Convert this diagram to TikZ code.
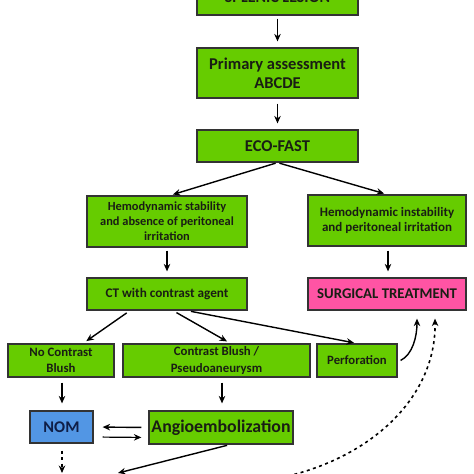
\documentclass[tikz,border=0pt]{standalone}
\usepackage{fontspec}
\setmainfont{Carlito}
\usetikzlibrary{arrows.meta}
\definecolor{boxgreen}{RGB}{102,204,0}
\definecolor{boxpink}{RGB}{255,84,164}
\definecolor{boxblue}{RGB}{82,150,228}
\definecolor{txt}{RGB}{25,30,20}
\tikzset{
  box/.style={draw=black!80, line width=1.2pt, fill=boxgreen, align=center, inner sep=1pt, font=\bfseries, text=txt},
  arr/.style={-{Stealth[length=7.5pt,width=6.5pt]}, line width=1.4pt, black},
  darr/.style={arr, dash pattern=on 3pt off 3.5pt},
}
\begin{document}
\begin{tikzpicture}[x=1pt,y=-1pt]
\useasboundingbox (0,0) rectangle (474,474);
\fill[white] (0,0) rectangle (474,474);
\node[box, minimum width=161, minimum height=36, font=\bfseries\fontsize{16}{18}\selectfont] (spl) at (277.5,-3) {\raisebox{0pt}{SPLENIC LESION}};
\node[box, minimum width=161, minimum height=50, font=\bfseries\fontsize{16.5}{19}\selectfont] (prim) at (277.5,73) {Primary assessment\\ABCDE};
\node[box, minimum width=161, minimum height=32, font=\bfseries\fontsize{16.5}{18}\selectfont] (eco) at (277.5,146) {ECO-FAST};
\node[box, minimum width=160, minimum height=51, font=\bfseries\fontsize{12.4}{15}\selectfont] (lh) at (167,221.5) {Hemodynamic stability\\and absence of peritoneal\\irritation};
\node[box, minimum width=158, minimum height=51, font=\bfseries\fontsize{13}{15.5}\selectfont] (rh) at (387,220.5) {Hemodynamic instability\\and peritoneal irritation};
\node[box, minimum width=160, minimum height=32, font=\bfseries\fontsize{13.2}{15}\selectfont] (ct) at (167,294) {CT with contrast agent};
\node[box, fill=boxpink, minimum width=158, minimum height=32, font=\bfseries\fontsize{14.8}{17}\selectfont] (surg) at (387,294) {SURGICAL TREATMENT};
\node[box, minimum width=106, minimum height=33, font=\bfseries\fontsize{12.8}{16.5}\selectfont] (nc) at (61,360.5) {No Contrast\\Blush};
\node[box, minimum width=187, minimum height=33, font=\bfseries\fontsize{12.8}{16.5}\selectfont] (cb) at (216.5,360.5) {Contrast Blush /\\Pseudoaneurysm};
\node[box, minimum width=80, minimum height=33, font=\bfseries\fontsize{12.7}{14}\selectfont] (perf) at (357,360.5) {Perforation};
\node[box, fill=boxblue, text={rgb,255:red,15;green,30;blue,70}, minimum width=63, minimum height=32, font=\bfseries\fontsize{16.3}{18}\selectfont] (nom) at (61.5,427) {NOM};
\node[box, minimum width=144, minimum height=33, font=\bfseries\fontsize{17.8}{20}\selectfont] (ang) at (221,427.5) {Angioembolization};
\coordinate (nomend) at (62,473);
\coordinate (angend) at (118,473);
\coordinate (dstart) at (288,476);
% connectors
\draw[arr, shorten <=3pt, shorten >=6pt] (spl.south) -- (prim.north);
\draw[arr, shorten <=5pt, shorten >=6pt] (prim.south) -- (eco.north);
\draw[arr, shorten <=2pt, shorten >=3pt] (eco.south) -- ([xshift=3]lh.north);
\draw[arr, shorten <=2pt, shorten >=3pt] (eco.south) -- (rh.north);
\draw[arr, shorten <=3pt, shorten >=6pt] (lh.south) -- (ct.north);
\draw[arr, shorten <=4pt, shorten >=6pt] ([xshift=1]rh.south) -- ([xshift=1]surg.north);
\draw[arr, shorten <=4pt, shorten >=4pt] ([xshift=-37]ct.south) -- ([xshift=22]nc.north);
\draw[arr, shorten <=4pt, shorten >=4pt] ([xshift=6]ct.south) -- ([xshift=14]cb.north);
\draw[arr, shorten <=4pt, shorten >=3pt] ([xshift=20]ct.south) -- (perf.north);
\draw[arr] ([xshift=3]perf.east) .. controls +(12,-6) and +(0,18) .. ([xshift=30,yshift=-8]surg.south);
\draw[darr, line width=1.6pt] (dstart) .. controls (375,455) and (436,395) .. ([xshift=48,yshift=-8]surg.south);
\draw[arr, shorten <=5pt, shorten >=7pt] ([xshift=1]nc.south) -- ([xshift=0.5]nom.north);
\draw[arr, shorten <=5pt, shorten >=7pt] ([xshift=5.5]cb.south) -- ([xshift=1]ang.north);
\draw[arr, shorten <=7pt, shorten >=9pt] (ang.west) -- (nom.east);
\draw[arr, line width=1.2pt, shorten <=9pt, shorten >=7pt] ([yshift=-10]nom.east) -- ([yshift=-10]ang.west);
\draw[darr, shorten <=7pt] ([xshift=0.5]nom.south) -- (nomend);
\draw[arr, shorten <=3pt] ([xshift=9]ang.south) -- (angend);
\end{tikzpicture}
\end{document}
